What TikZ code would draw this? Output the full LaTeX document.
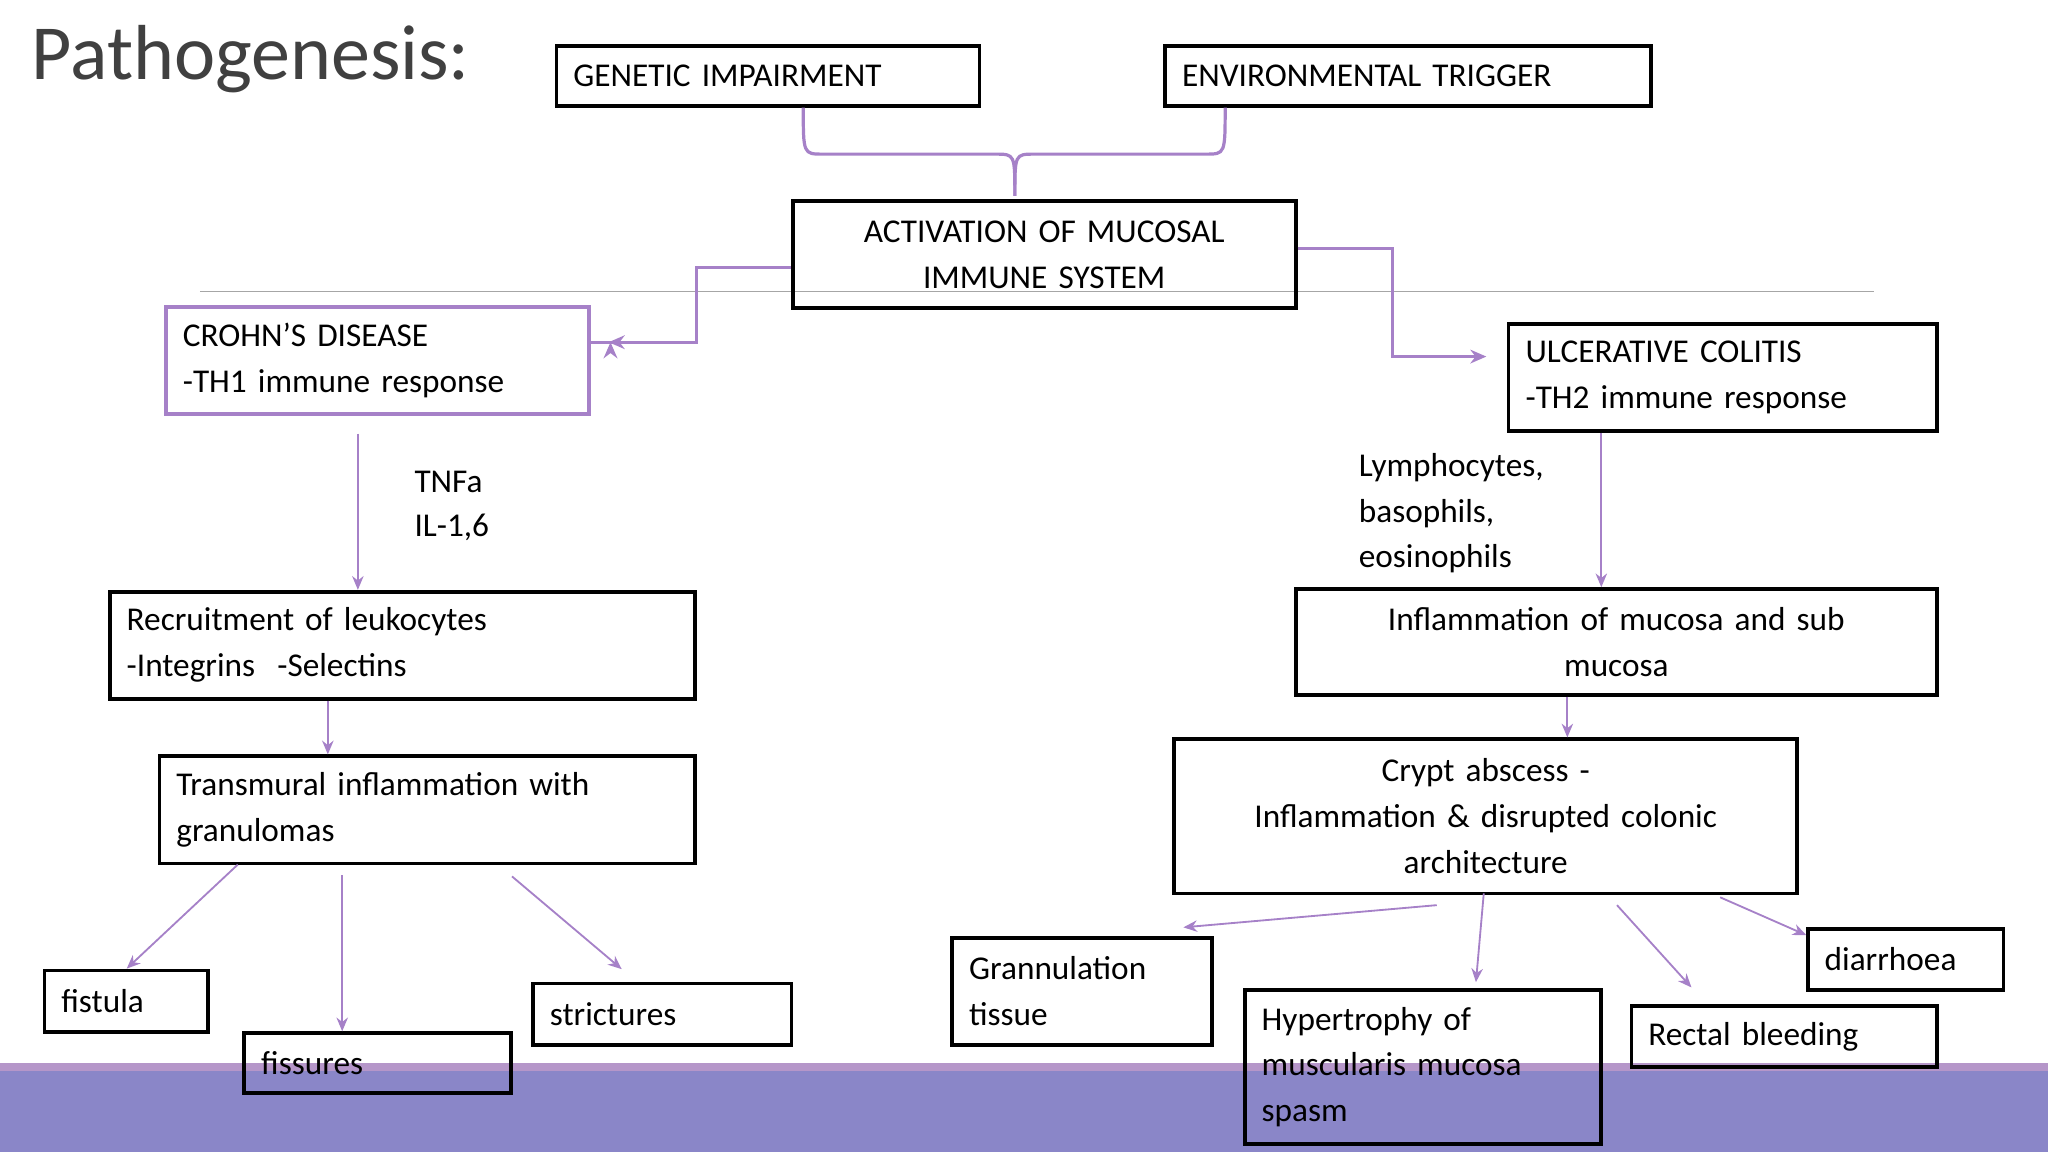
\documentclass[tikz,border=0pt]{standalone}
\usepackage{fontspec}
\setmainfont{Carlito}
\usetikzlibrary{arrows.meta}
\definecolor{pur}{HTML}{A681C8}
\definecolor{band}{HTML}{8A86C8}
\definecolor{bandtop}{HTML}{B596C9}
\def\u{0.02cm}
\newcommand\mybox[8][black]{%
 \node[draw=#1,line width=1.6pt,inner sep=0pt,align=#7,font=\fontsize{14.5}{20}\selectfont,
 minimum width={(#5-#3)*0.02cm}, minimum height={(#6-#4)*0.02cm}, text width={(#5-#3-26)*0.02cm}]
 (#2) at ({(#3+#5)/2},{(#4+#6)/2}) {#8};}
\begin{document}
\begin{tikzpicture}[x=\u,y=-\u,
 conn/.style={draw=pur,line width=1.4pt,-{Stealth[length=7pt,width=6pt]}},
 thin/.style={draw=pur,line width=0.8pt,-{Stealth[length=6pt,width=5pt]}},
 lbl/.style={anchor=west,font=\fontsize{14.5}{20}\selectfont,inner sep=0pt}]
\useasboundingbox (0,0) rectangle (1568,882);
\fill[band] (0,820) rectangle (1568,882);
\fill[bandtop] (0,814) rectangle (1568,820);
\node[anchor=west,inner sep=0pt,text=black!75,font=\fontsize{34}{40}\selectfont] (title) at (24,45) {Pathogenesis:};
\draw[gray!70,line width=0.6pt] (153,223) -- (1435,223);
\mybox{gen}{426}{35}{750}{81}{left}{GENETIC IMPAIRMENT}
\mybox{env}{892}{35}{1264}{81}{left}{ENVIRONMENTAL TRIGGER}
\mybox{act}{607}{154}{992}{236}{center}{ACTIVATION OF MUCOSAL\\IMMUNE SYSTEM}
\mybox[pur]{cd}{127}{235}{451}{317}{left}{CROHN’S DISEASE\\-TH1 immune response}
\mybox{uc}{1155}{248}{1483}{330}{left}{ULCERATIVE COLITIS\\-TH2 immune response}
\mybox{rec}{84}{453}{532}{535}{left}{Recruitment of leukocytes\\-Integrins\ \ -Selectins}
\mybox{tra}{122}{579}{532}{661}{left}{Transmural inflammation with\\granulomas}
\mybox{fis}{34}{743}{159}{790}{left}{fistula}
\mybox{fiss}{187}{791}{391}{837}{left}{fissures}
\mybox{str}{408}{753}{606}{800}{left}{strictures}
\mybox{gra}{729}{718}{928}{800}{left}{Grannulation\\tissue}
\mybox{hyp}{953}{758}{1226}{876}{left}{Hypertrophy of\\muscularis mucosa\\spasm}
\mybox{rb}{1249}{770}{1483}{817}{left}{Rectal bleeding}
\mybox{dia}{1384}{711}{1534}{758}{left}{diarrhoea}
\mybox{inf}{992}{451}{1483}{532}{center}{Inflammation of mucosa and sub\\mucosa}
\mybox{cry}{899}{566}{1376}{684}{center}{Crypt abscess -\\Inflammation \& disrupted colonic\\architecture}
% brace
\coordinate (bm) at (777,150);
\draw[pur,line width=1.4pt] (gen.south -| 615,0) .. controls (615,118) .. (630,118) -- (762,118) .. controls (777,118) .. (bm);
\draw[pur,line width=1.4pt] (env.south -| 938,0) .. controls (938,118) .. (923,118) -- (792,118) .. controls (777,118) .. (bm);
% main branches
\draw[conn] (act.west |- 0,205) -- (533,205) -- (533,262) -- (cd.east |- 0,262) ++(15,0);
\draw[conn] (600,205) -- (533,205) -- (533,262) -- (466,262);
\draw[conn] (act.east |- 0,190) -- (1066,190) -- (1066,273) -- (1138,273);
% crohn side
\draw[thin] (274,332) -- (rec.north -| 274,0);
\node[lbl] (tnf) at (317,369) {TNFa};
\node[lbl] (il) at (317,404) {IL-1,6};
\draw[thin] (rec.south -| 251,0) -- (tra.north -| 251,0);
\draw[thin] (182,662) -- (fis.north -| 97,0);
\draw[thin] (262,670) -- (fiss.north -| 262,0);
\draw[thin] (392,671) -- (476,742);
% UC side
\draw[thin] (uc.south -| 1226,0) -- (inf.north -| 1226,0);
\node[lbl] (ly) at (1040,358) {Lymphocytes,};
\node[lbl] (ba) at (1040,393) {basophils,};
\node[lbl] (eo) at (1040,428) {eosinophils};
\draw[thin] (inf.south -| 1200,0) -- (cry.north -| 1200,0);
\draw[thin] (1100,693) -- (906,710);
\draw[thin] (1136,684) -- (1130,752);
\draw[thin] (1238,693) -- (1295,756);
\draw[thin] (1317,687) -- (1383,716);
\end{tikzpicture}
\end{document}
